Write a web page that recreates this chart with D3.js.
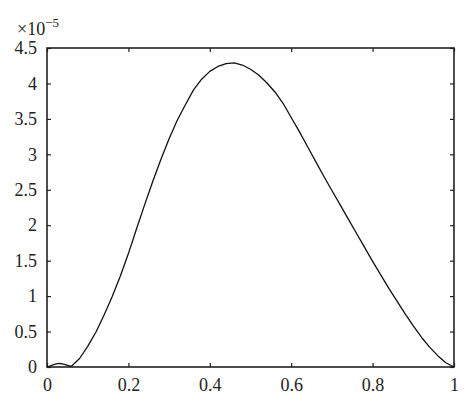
<!DOCTYPE html>
<html>
<head>
<meta charset="utf-8">
<script src="https://cdn.jsdelivr.net/npm/d3@7"></script>
<style>
  body { margin: 0; background: #fff; }
  text { font-family: "Liberation Serif", "DejaVu Serif", serif; fill: #222; }
</style>
</head>
<body>
<div id="chart"></div>
<script>
// x positions along the curve
const xs = [0, 0.02, 0.03, 0.04, 0.06, 0.08, 0.1, 0.12, 0.14, 0.16, 0.18, 0.2, 0.22, 0.24, 0.26, 0.28,
  0.3, 0.32, 0.34, 0.36, 0.38, 0.4, 0.42, 0.44, 0.46, 0.48, 0.5, 0.52, 0.54, 0.56, 0.58, 0.6,
  0.62, 0.64, 0.66, 0.68, 0.7, 0.72, 0.74, 0.76, 0.78, 0.8, 0.82, 0.84, 0.86, 0.88, 0.9, 0.92,
  0.94, 0.96, 0.98, 1];

// values in units of 1e-5
const values = [0, 0.04, 0.05, 0.04, 0.01, 0.12, 0.29, 0.49, 0.73, 0.99, 1.28, 1.6, 1.95, 2.29, 2.62, 2.93,
  3.22, 3.48, 3.7, 3.91, 4.06, 4.17, 4.24, 4.28, 4.29, 4.26, 4.2, 4.12, 4.01, 3.88, 3.72, 3.52,
  3.32, 3.11, 2.9, 2.69, 2.49, 2.29, 2.09, 1.89, 1.69, 1.49, 1.3, 1.11, 0.93, 0.75, 0.58, 0.42,
  0.28, 0.16, 0.06, 0];

const xTicks = [0, 0.2, 0.4, 0.6, 0.8, 1];
const yTicks = [0, 0.5, 1, 1.5, 2, 2.5, 3, 3.5, 4, 4.5];

const W = 474, H = 410;
const margin = { top: 48, right: 20, bottom: 43, left: 47 },
  width = W - margin.left - margin.right,
  height = H - margin.top - margin.bottom;

const svg = d3.select('#chart').append('svg')
  .attr('width', W)
  .attr('height', H);

const g = svg.append('g').attr('transform', `translate(${margin.left},${margin.top})`);

const x = d3.scaleLinear().domain([0, 1]).range([0, width]);
const y = d3.scaleLinear().domain([0, 4.5]).range([height, 0]);

const fmt = d => String(d);

// axes with inward ticks on all four sides
const styleAxis = sel => {
  sel.select('.domain').remove();
  sel.selectAll('line').attr('stroke', '#222').attr('stroke-width', 1.2);
  sel.selectAll('text').attr('font-size', 18).attr('fill', '#222')
    .attr('font-family', '"Liberation Serif", "DejaVu Serif", serif');
};

g.append('g')
  .attr('transform', `translate(0,${height})`)
  .call(d3.axisBottom(x).tickValues(xTicks).tickSize(-4).tickPadding(11).tickFormat(fmt))
  .call(styleAxis);

g.append('g')
  .call(d3.axisTop(x).tickValues(xTicks).tickSize(-4).tickFormat(''))
  .call(styleAxis);

g.append('g')
  .call(d3.axisLeft(y).tickValues(yTicks).tickSize(-4).tickPadding(10).tickFormat(fmt))
  .call(styleAxis);

g.append('g')
  .attr('transform', `translate(${width},0)`)
  .call(d3.axisRight(y).tickValues(yTicks).tickSize(-4).tickFormat(''))
  .call(styleAxis);

// frame
g.append('rect')
  .attr('width', width)
  .attr('height', height)
  .attr('fill', 'none')
  .attr('stroke', '#222')
  .attr('stroke-width', 1.6);

// curve
const line = d3.line()
  .x((d, i) => x(xs[i]))
  .y(d => y(d));

g.append('path')
  .datum(values)
  .attr('fill', 'none')
  .attr('stroke', '#111')
  .attr('stroke-width', 1.3)
  .attr('stroke-linejoin', 'round')
  .attr('d', line);

// exponent label
const expo = svg.append('text')
  .attr('x', 17)
  .attr('y', 35)
  .attr('font-size', 18);
expo.append('tspan').text('×10');
expo.append('tspan').attr('dy', -8).attr('font-size', 13).text('−5');
</script>
</body>
</html>
